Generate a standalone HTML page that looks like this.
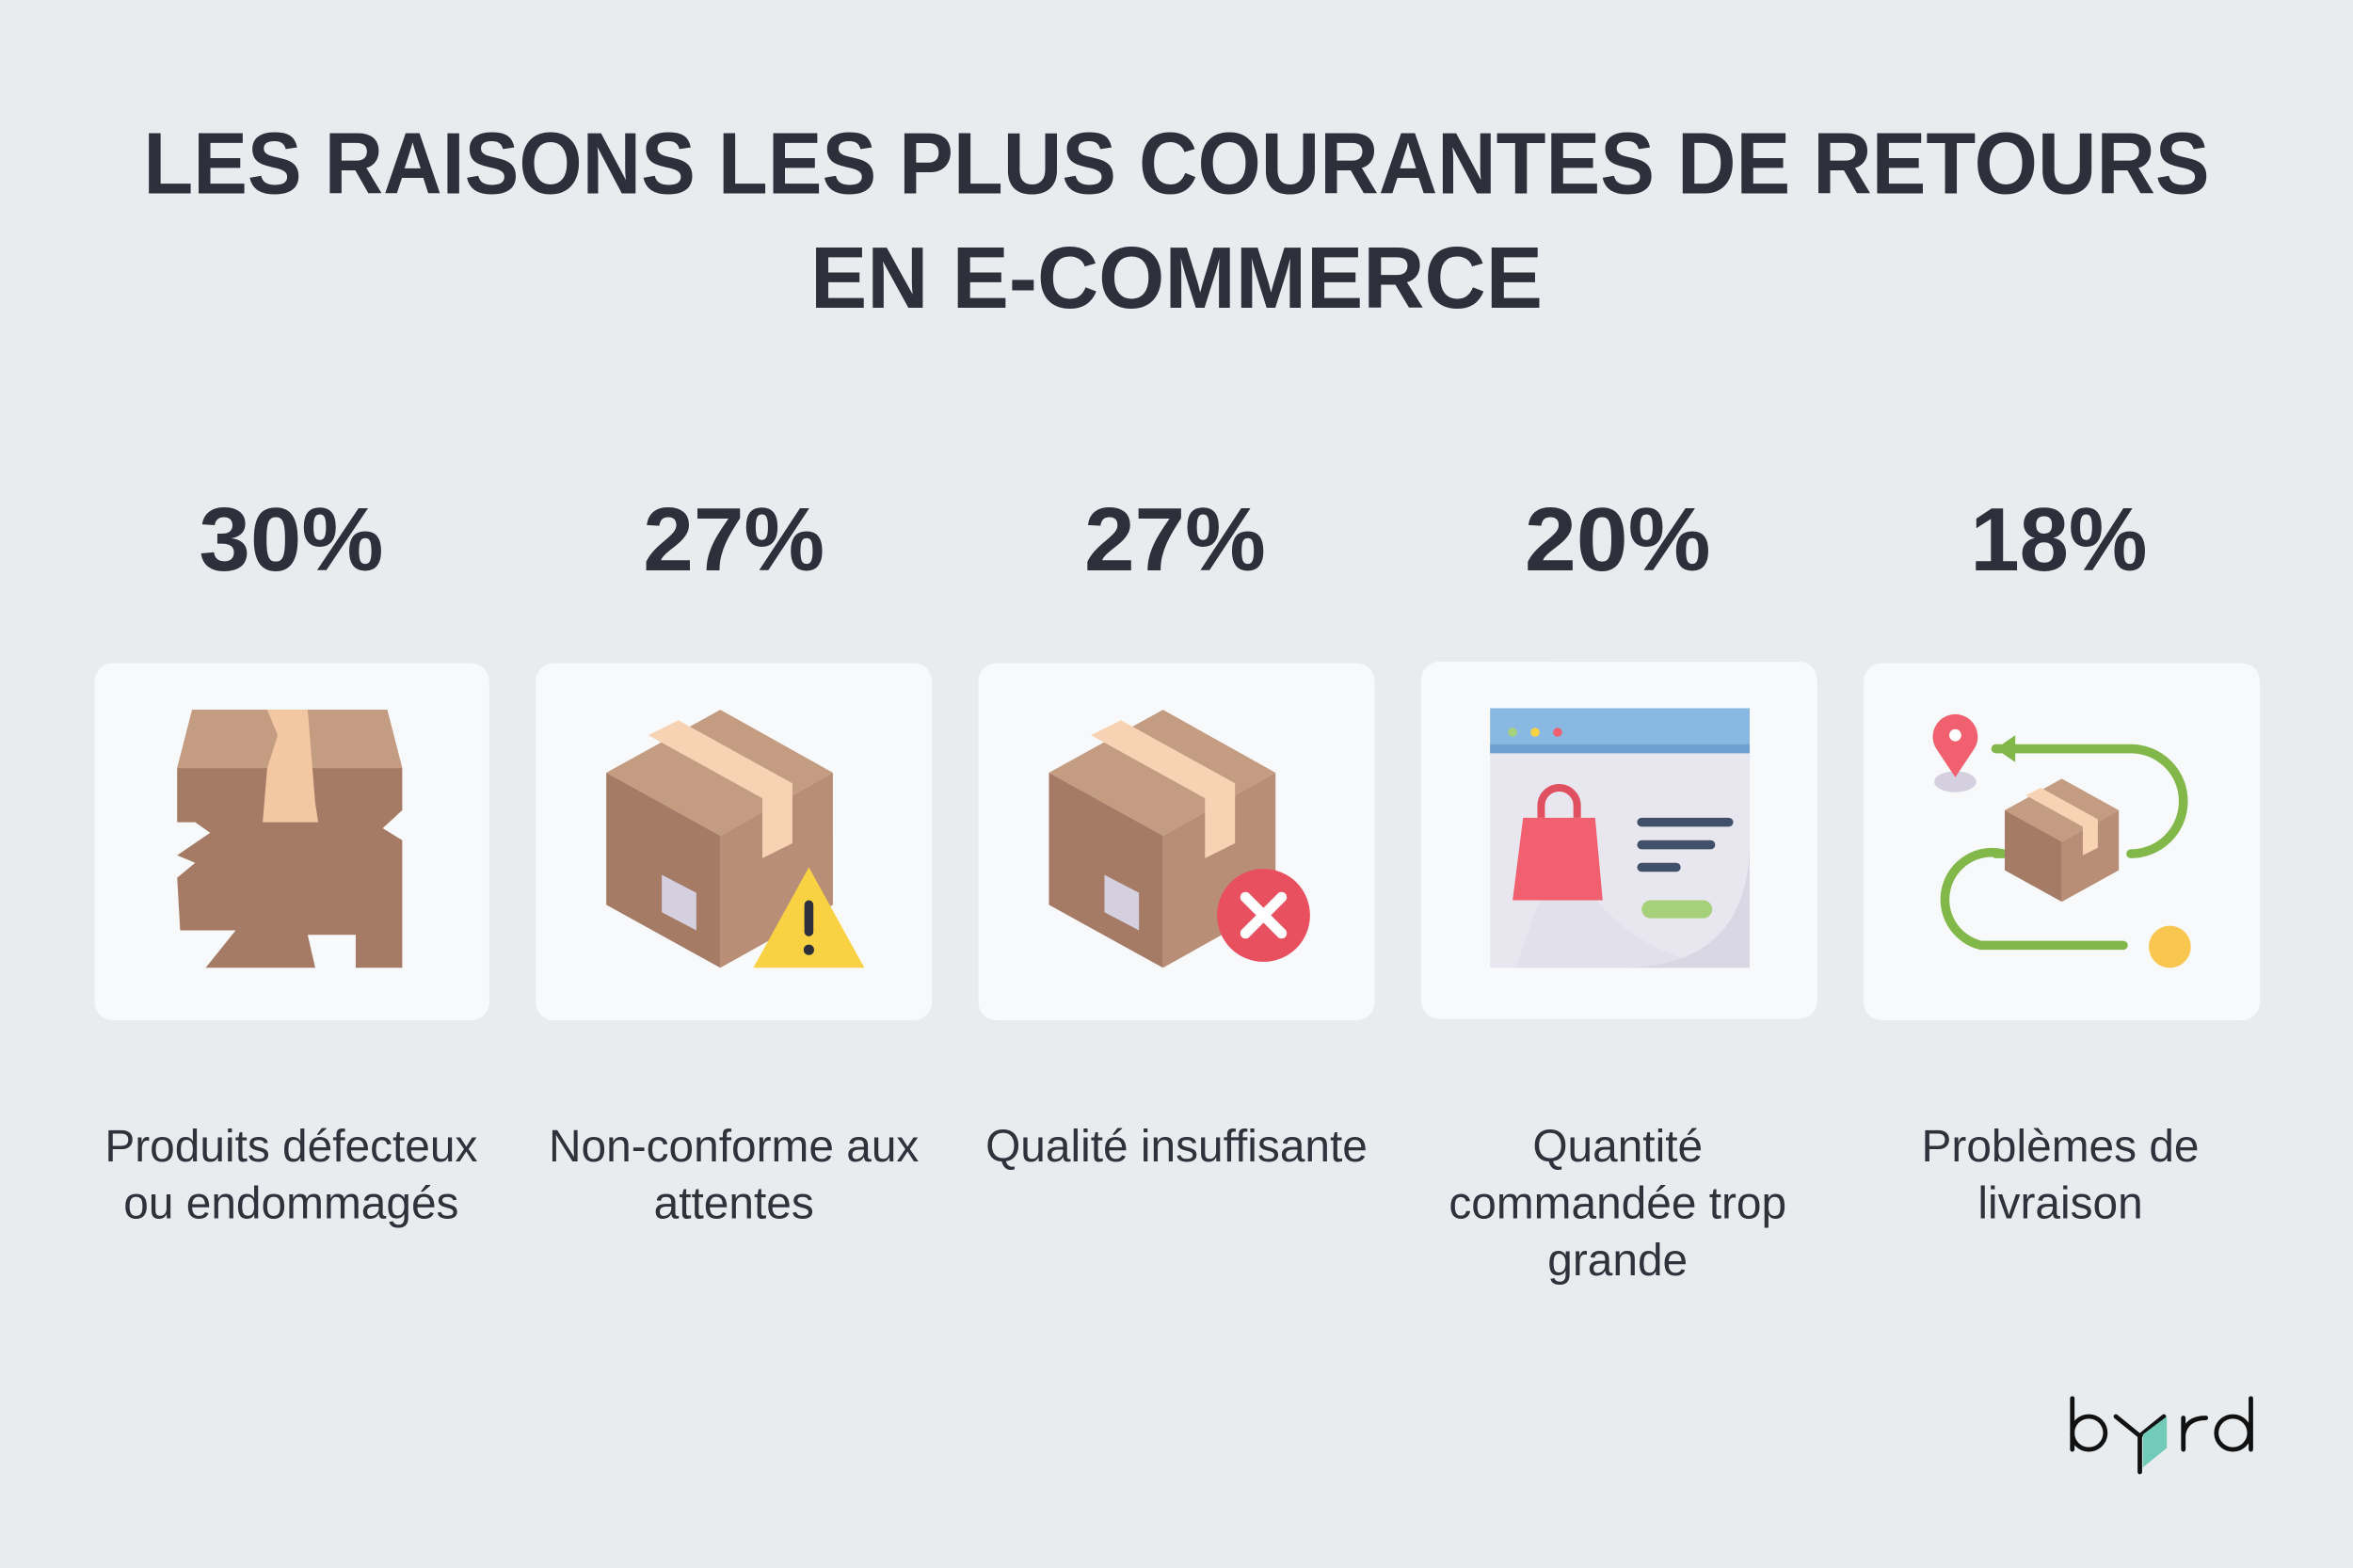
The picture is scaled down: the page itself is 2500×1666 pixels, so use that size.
<!DOCTYPE html>
<html><head><meta charset="utf-8"><style>
html,body{margin:0;padding:0;background:#e9ecef;}
svg{display:block;}
</style></head><body>
<svg width="2500" height="1666" viewBox="0 0 1568 1045" xmlns="http://www.w3.org/2000/svg" font-family="Liberation Sans, sans-serif">
<rect width="1568" height="1045" fill="#e9ecef"/>
<g fill="#2d303b" font-weight="bold" text-anchor="middle">
<text x="784" y="129" font-size="58" textLength="1377" lengthAdjust="spacingAndGlyphs">LES RAISONS LES PLUS COURANTES DE RETOURS</text>
<text x="784" y="205" font-size="58" textLength="488" lengthAdjust="spacingAndGlyphs">EN E-COMMERCE</text>
<text x="194" y="380" font-size="60" textLength="123" lengthAdjust="spacingAndGlyphs">30%</text>
<text x="489" y="380" font-size="60" textLength="121" lengthAdjust="spacingAndGlyphs">27%</text>
<text x="783" y="380" font-size="60" textLength="121" lengthAdjust="spacingAndGlyphs">27%</text>
<text x="1078" y="380" font-size="60" textLength="124" lengthAdjust="spacingAndGlyphs">20%</text>
<text x="1372" y="380" font-size="60" textLength="118" lengthAdjust="spacingAndGlyphs">18%</text>
</g>
<g fill="#f8f9fb">
<rect x="63" y="442" width="263" height="238" rx="12"/>
<rect x="357" y="442" width="264" height="238" rx="12"/>
<rect x="652" y="442" width="264" height="238" rx="12"/>
<rect x="947" y="441" width="264" height="238" rx="12"/>
<rect x="1242" y="442" width="264" height="238" rx="12"/>
</g>
<polygon points="128,473 258,473 268,512 268,540 255,552 268,560 268,645 237,645 237,623 205,623 210,645 137,645 157,620 120,620 118,585 130,575 118,570 140,555 130,548 118,548 118,512" fill="#a57b66"/>
<polygon points="128,473 258,473 268,512 118,512" fill="#c49c82"/>
<polygon points="178,473 205,473 210,535 212,548 175,548 178,512 185,490" fill="#f2c7a2"/>
<g id="box">
<polygon points="480,473 555,515 480,557 404,515" fill="#c49c82"/>
<polygon points="404,515 480,557 480,645 404,603" fill="#a57b66"/>
<polygon points="480,557 555,515 555,603 480,645" fill="#b98e76"/>
<polygon points="432,490 452,480 528,522 528,562 508,572 508,532" fill="#f7d3b4"/>
<polygon points="441,583 464,595 464,620 441,608" fill="#d4d0e0"/>
</g>
<polygon points="539,578 576,645 502,645" fill="#f9d244"/>
<rect x="536" y="600" width="6" height="24" rx="3" fill="#2d303b"/><circle cx="539" cy="633" r="3.5" fill="#2d303b"/>
<use href="#box" x="295"/>
<circle cx="842" cy="610" r="31" fill="#e9505f"/>
<path d="M830 598 L854 622 M854 598 L830 622" stroke="#fff" stroke-width="7" stroke-linecap="round"/>
<rect x="993" y="472" width="173" height="173" fill="#e8e7ef"/>
<path d="M1040 560 A130 130 0 0 0 1166 645 L1166 645 L1010 645 Z" fill="#dedce8" opacity="0.6"/>
<path d="M1166 560 Q1166 645 1080 645 L1166 645 Z" fill="#d9d7e4"/>
<rect x="993" y="472" width="173" height="30" fill="#89b9e2"/>
<rect x="993" y="496" width="173" height="6" fill="#6fa0d2"/>
<circle cx="1008" cy="488" r="3" fill="#a6d17a"/><circle cx="1023" cy="488" r="3" fill="#f9d244"/><circle cx="1038" cy="488" r="3" fill="#f0606f"/>
<path d="M1027 545 v-8 a12 12 0 0 1 24 0 v8" stroke="#e05060" stroke-width="5" fill="none"/>
<polygon points="1015,545 1063,545 1068,600 1008,600" fill="#f0606f"/>
<g stroke="#3f5068" stroke-width="6" stroke-linecap="round"><line x1="1094" y1="548" x2="1152" y2="548"/><line x1="1094" y1="563" x2="1140" y2="563"/><line x1="1094" y1="578" x2="1117" y2="578"/></g>
<line x1="1100" y1="606" x2="1135" y2="606" stroke="#a6d17a" stroke-width="12" stroke-linecap="round"/>
<path d="M1330 499 L1420 499 A35 35 0 0 1 1420 569 M1330 569 L1335 569 M1335 569 A31 31 0 0 0 1320 630 L1415 630" stroke="#82b84a" stroke-width="6" fill="none" stroke-linecap="round"/>
<polygon points="1330,499 1343,490 1343,508" fill="#82b84a"/>
<ellipse cx="1303" cy="521" rx="14" ry="7" fill="#d4d0e0"/>
<path d="M1303 518 L1291 500 A15 15 0 1 1 1315 500 Z" fill="#f0606f"/><circle cx="1303" cy="490" r="4" fill="#fff"/>
<circle cx="1446" cy="631" r="14" fill="#f9c74f"/>
<polygon points="1374,519 1412,540 1374,561 1336,540" fill="#c49c82"/>
<polygon points="1336,540 1374,561 1374,601 1336,580" fill="#a57b66"/>
<polygon points="1374,561 1412,540 1412,580 1374,601" fill="#b98e76"/>
<polygon points="1350,530 1360,525 1398,546 1398,565 1388,570 1388,551" fill="#f7d3b4"/>
<g fill="#2f323b" font-size="30" text-anchor="middle">
<text x="194" y="774">Produits défecteux</text><text x="194" y="812">ou endommagés</text>
<text x="489" y="774">Non-conforme aux</text><text x="489" y="812">attentes</text>
<text x="784" y="774">Qualité insuffisante</text>
<text x="1078" y="774">Quantité</text><text x="1078" y="812">commandée trop</text><text x="1078" y="850">grande</text>
<text x="1373" y="774">Problèmes de</text><text x="1373" y="812">livraison</text>
</g>
<g stroke="#111" stroke-width="3" fill="none" stroke-linecap="round">
<line x1="1381" y1="932" x2="1381" y2="966"/><circle cx="1392" cy="955" r="11"/>
<line x1="1410" y1="944" x2="1426" y2="957"/><line x1="1442" y1="944" x2="1426" y2="957"/><line x1="1426" y1="957" x2="1426" y2="981"/>
<line x1="1455" y1="945" x2="1455" y2="966"/><path d="M1455 956 Q1457 945 1470 945"/>
<circle cx="1488" cy="955" r="11"/><line x1="1500" y1="932" x2="1500" y2="966"/>
</g>
<polygon points="1428,956 1444,944 1444,965 1428,978" fill="#72cbb9"/>
</svg>
</body></html>
